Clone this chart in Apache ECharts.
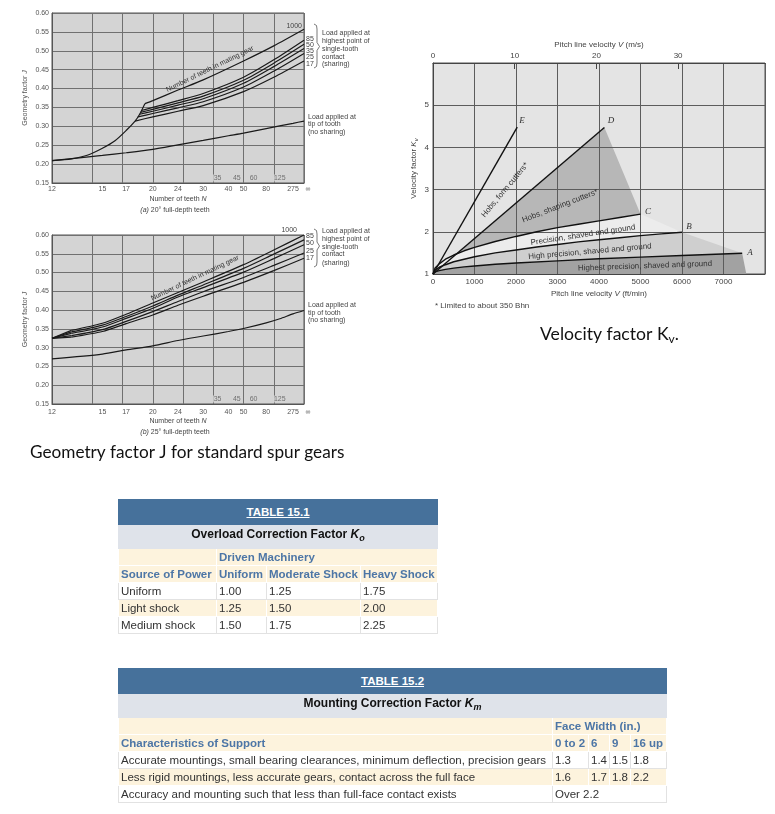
<!DOCTYPE html>
<html>
<head>
<meta charset="utf-8">
<title>Geometry factor J, velocity factor Kv, Ko and Km tables</title>
<script src="https://cdn.jsdelivr.net/npm/echarts@6.0.0/dist/echarts.min.js"></script>
<style>
html,body{margin:0;padding:0;background:#fff;width:775px;height:814px;overflow:hidden;}
#chart{position:absolute;left:0;top:0;width:775px;height:814px;}
.tb{position:absolute;border-collapse:collapse;table-layout:fixed;font-family:"Liberation Sans",Arial,sans-serif;font-size:11.5px;color:#333;z-index:2;}
.tb td{box-sizing:border-box;border:1px solid #e2e2e2;padding:0 2px;white-space:nowrap;overflow:hidden;line-height:13px;vertical-align:middle;}
.tb tr.hd td{background:#46719b;color:#fff;font-weight:bold;text-align:center;height:25px;border-color:#46719b;}
.tb tr.hd td span{text-decoration:underline;}
.tb tr.st td{background:#dfe3ea;color:#111;font-weight:bold;text-align:center;height:24px;border-color:#dfe3ea;font-size:12px;}
.tb tr.st td i{font-style:italic;}
.tb tr.st td sub{font-size:9px;font-style:italic;vertical-align:-3px;}
.tb tr.ch td{background:#fdf3dd;color:#4d76a6;font-weight:bold;height:17px;border-color:#f3ead6 #fff #fff #fff;}
.tb tr.w td{background:#fff;height:17px;}
.tb tr.c td{background:#fdf3dd;height:17px;border-color:#fff;}
</style>
</head>
<body>
<div id="chart"></div>
<div id="tables"></div>
<script>
// ================= DATA =================
// Geometry factor J — shared x scale (number of teeth N, plotted on 1/N)
const gridTeeth = [15,17,20,24,30,35,40,45,50,60,80,125,275];
const teethLabelsLower = [12,15,17,20,24,30,40,50,80,275,Infinity];
const teethLabelsUpper = [35,45,60,125];
const jMin = 0.15, jMax = 0.60, jStep = 0.05;

// (a) 20° full-depth teeth
const aTipN = [12,15,17,20,24,30,40,50,80,275,Infinity];
const aTipJ = [0.209,0.223,0.230,0.239,0.251,0.263,0.275,0.282,0.294,0.308,0.314];
const aEnvN = [12,13,14,15,16,17,17.9,18.4,19];
const aEnvJ = [0.209,0.214,0.224,0.242,0.262,0.289,0.314,0.332,0.360];
const aMating = ['1000','85','50','35','25','17'];
const aBranchN = [19,18.6,18.5,18.4,18.2,17.9];
const aBranchJ = [0.360,0.342,0.337,0.332,0.325,0.314];
const aShareN = [20,24,30,50,100,Infinity];
const aShareJ = [
  [0.368,0.396,0.423,0.473,0.513,0.557],
  [0.350,0.368,0.387,0.430,0.476,0.528],
  [0.345,0.362,0.380,0.422,0.467,0.517],
  [0.340,0.356,0.373,0.414,0.458,0.506],
  [0.334,0.349,0.365,0.404,0.446,0.493],
  [0.325,0.340,0.355,0.392,0.430,0.473]
];

// (b) 25° full-depth teeth
const bTipN = [12,15,17,20,24,30,40,50,80,125,275,Infinity];
const bTipJ = [0.270,0.283,0.294,0.305,0.319,0.331,0.343,0.351,0.366,0.377,0.390,0.399];
const bMating = ['1000','85','50','25','17'];
const bShareN = [12,13,15,17,20,24,30,50,100,Infinity];
const bShareJ = [
  [0.325,0.346,0.365,0.389,0.419,0.447,0.475,0.521,0.560,0.600],
  [0.325,0.342,0.360,0.383,0.411,0.440,0.467,0.511,0.549,0.587],
  [0.325,0.338,0.355,0.378,0.405,0.435,0.460,0.501,0.537,0.574],
  [0.325,0.332,0.348,0.370,0.396,0.423,0.449,0.487,0.519,0.552],
  [0.325,0.328,0.343,0.364,0.387,0.413,0.437,0.474,0.505,0.538]
];

// Velocity factor Kv (V in ft/min)
const vMax = 8000, ftPerMs = 196.85;
const vE_V = [0,2030], vE_K = [1,4.48];
const vD_V = [0,4130], vD_K = [1,4.47];
const vC_V = [0,50,150,300,500,750,1000,1500,2000,2500,3000,3500,4000,4500,5000];
const vC_K = [1,1.14,1.24,1.35,1.45,1.55,1.63,1.77,1.89,2.00,2.10,2.18,2.26,2.34,2.42];
const vB_V = [0,50,150,300,500,750,1000,1500,2000,2500,3000,3500,4000,4500,5000,5500,6000];
const vB_K = [1,1.09,1.16,1.22,1.29,1.35,1.41,1.50,1.57,1.64,1.70,1.76,1.81,1.86,1.91,1.95,1.99];
const vA_V = [0,50,150,300,500,750,1000,1500,2000,3000,4000,5000,6000,7450];
const vA_K = [1,1.05,1.08,1.11,1.14,1.17,1.19,1.23,1.26,1.31,1.36,1.40,1.44,1.49];
const vAFoot = [7550,1];

// Tables
const t1Header = 'TABLE 15.1';
const t1Group = 'Driven Machinery';
const t1Cols = ['Source of Power','Uniform','Moderate Shock','Heavy Shock'];
const t1RowNames = ['Uniform','Light shock','Medium shock'];
const t1Vals = [['1.00','1.25','1.75'],['1.25','1.50','2.00'],['1.50','1.75','2.25']];
const t2Header = 'TABLE 15.2';
const t2Group = 'Face Width (in.)';
const t2Cols = ['Characteristics of Support','0 to 2','6','9','16 up'];
const t2RowNames = ['Accurate mountings, small bearing clearances, minimum deflection, precision gears',
  'Less rigid mountings, less accurate gears, contact across the full face',
  'Accuracy and mounting such that less than full-face contact exists'];
const t2Vals = [['1.3','1.4','1.5','1.8'],['1.6','1.7','1.8','2.2'],['Over 2.2']];

// ================= CHART =================
const FONT = '"Liberation Sans", Arial, sans-serif';
const SERIF = '"Liberation Serif", "DejaVu Serif", serif';
const CAP = 'Lato, "Open Sans", sans-serif';
const inv = n => 1 / n;
const pts = (xs, ys, fx) => xs.map((x, i) => [fx ? fx(x) : x, ys[i]]);

const chart = echarts.init(document.getElementById('chart'), null, {renderer: 'canvas'});

function teethXAxis(gi, labelMargin, nameGap) {
  return {
    gridIndex: gi, type: 'value', min: 0, max: 1/12, inverse: true,
    axisLine: {show: true, onZero: false, lineStyle: {color: '#555', width: 1}},
    axisTick: {show: false}, splitLine: {show: false},
    axisLabel: {customValues: teethLabelsLower.map(inv), formatter: v => v === 0 ? '{inf|∞}' : String(Math.round(1 / v)),
      fontSize: 7, color: '#555', fontFamily: FONT, margin: labelMargin, hideOverlap: false,
      rich: {inf: {fontSize: 7, color: '#555', fontFamily: FONT, padding: [0, 0, 0, 8]}}},
    name: 'Number of teeth {i|N}', nameLocation: 'middle', nameGap: nameGap,
    nameTextStyle: {fontSize: 7, color: '#444', fontFamily: FONT, rich: {i: {fontStyle: 'italic', fontSize: 7, color: '#444', fontFamily: FONT}}}
  };
}
function jYAxis(gi) {
  return {
    gridIndex: gi, type: 'value', min: jMin, max: jMax, interval: jStep,
    axisLine: {show: true, onZero: false, lineStyle: {color: '#555'}},
    axisTick: {show: false},
    splitLine: {show: true, lineStyle: {color: '#707070', width: 1}},
    axisLabel: {formatter: v => v.toFixed(2), fontSize: 7, color: '#555', fontFamily: FONT, margin: 3},
    name: 'Geometry factor {i|J}', nameLocation: 'middle', nameRotate: 90, nameGap: 23,
    nameTextStyle: {fontSize: 7, color: '#555', fontFamily: FONT, rich: {i: {fontStyle: 'italic', fontSize: 7, color: '#555', fontFamily: FONT}}}
  };
}
const curveStyle = {color: '#1a1a1a', width: 1.2};
function lineS(ai, data, extra) {
  return Object.assign({type: 'line', xAxisIndex: ai, yAxisIndex: ai, data, symbol: 'none', smooth: 0.25,
    silent: true, z: 5, lineStyle: curveStyle, animation: false}, extra || {});
}
function teethGridSeries(ai) {
  return {type: 'line', xAxisIndex: ai, yAxisIndex: ai, data: [], silent: true, z: 1,
    markLine: {silent: true, symbol: 'none', animation: false, label: {show: false},
      lineStyle: {color: '#707070', width: 1, type: 'solid'}, data: gridTeeth.map(n => ({xAxis: inv(n)}))}};
}
function upperLabelSeries(ai) {
  return {type: 'scatter', xAxisIndex: ai, yAxisIndex: ai, data: teethLabelsUpper.map(n => [inv(n), jMin]),
    symbolSize: 1, itemStyle: {color: 'rgba(0,0,0,0)'}, silent: true, z: 6, clip: false,
    label: {show: true, position: 'top', distance: 1, formatter: p => String(Math.round(1 / p.value[0])),
      fontSize: 7, color: '#555', fontFamily: FONT, backgroundColor: '#d4d4d4', padding: [0, 1]}};
}
function polyS(points, color) {
  return {type: 'custom', xAxisIndex: 2, yAxisIndex: 2, silent: true, z: 1, data: [[0, 1]], animation: false,
    renderItem: (params, api) => ({type: 'polygon', shape: {points: points.map(p => api.coord(p))}, style: {fill: color}})};
}

const series = [];
// (a)
series.push(teethGridSeries(0), upperLabelSeries(0));
series.push(lineS(0, pts(aTipN, aTipJ, inv)));
series.push(lineS(0, pts(aEnvN, aEnvJ, inv)));
aMating.forEach((m, k) => {
  series.push(lineS(0, [[inv(aBranchN[k]), aBranchJ[k]]].concat(pts(aShareN, aShareJ[k], inv)), {name: 'a' + m}));
});
// (b)
series.push(teethGridSeries(1), upperLabelSeries(1));
series.push(lineS(1, pts(bTipN, bTipJ, inv)));
bMating.forEach((m, k) => {
  const d = pts(bShareN, bShareJ[k], inv);
  series.push(lineS(1, d.slice(0, 2), {smooth: false}));
  series.push(lineS(1, d.slice(1), {name: 'b' + m}));
});
// velocity shading
const cE = pts(vE_V, vE_K), cD = pts(vD_V, vD_K), cC = pts(vC_V, vC_K), cB = pts(vB_V, vB_K), cA = pts(vA_V, vA_K);
const rev = a => a.slice().reverse();
series.push(polyS(cD.concat(rev(cC)), '#b7b7b7'));
series.push(polyS(cC.concat(rev(cB)), '#ececec'));
series.push(polyS(cB.concat(rev(cA)), '#cfcfcf'));
series.push(polyS(cA.concat([vAFoot]), '#a2a2a2'));
[cE, cD, cC, cB, cA].forEach(c => series.push(lineS(2, c, {smooth: false, lineStyle: {color: '#111', width: 1.4}})));

// ---- annotation text ----
function T(x, y, text, o) {
  o = o || {};
  return {type: 'text', x, y, rotation: (o.rot || 0) * Math.PI / 180, silent: true, z: 20,
    style: {text, fill: o.color || '#444', fontSize: o.size || 7, fontFamily: o.family || FONT,
      fontStyle: o.style || 'normal', fontWeight: o.weight || 'normal', align: o.align || 'left',
      verticalAlign: 'middle', rich: o.rich}};
}
function brace(x, y0, ym, y1) {
  return {type: 'polyline', silent: true, z: 20,
    shape: {points: [[x, y0], [x + 2.5, y0 + 1.5], [x + 3, y0 + 5], [x + 3, ym - 4], [x + 5.5, ym], [x + 3, ym + 4], [x + 3, y1 - 5], [x + 2.5, y1 - 1.5], [x, y1]]},
    style: {stroke: '#555', fill: null, lineWidth: 0.8}};
}
const sharingLines = ['Load applied at', 'highest point of', 'single-tooth', 'contact', '(sharing)'];
const tipLines = ['Load applied at', 'tip of tooth', '(no sharing)'];
const graphics = [];
// (a)
graphics.push(T(302, 26, '1000', {align: 'right'}));
[['85', 39.5], ['50', 45.5], ['35', 51.5], ['25', 57.5], ['17', 64.5]].forEach(p => graphics.push(T(306, p[1], p[0])));
graphics.push(brace(314, 24, 46.5, 68));
[32.7, 40.7, 49, 56.7, 64.3].forEach((y, i) => graphics.push(T(322, y, sharingLines[i])));
[116.7, 124.3, 132.3].forEach((y, i) => graphics.push(T(308, y, tipLines[i])));
graphics.push(T(210, 69, 'Number of teeth in mating gear', {rot: 26, align: 'center', color: '#333'}));
graphics.push(T(175, 210.5, '{i|(a)} 20° full-depth teeth', {align: 'center', rich: {i: {fontStyle: 'italic', fontSize: 7, fontFamily: FONT, fill: '#444'}}}));
// (b)
graphics.push(T(297, 230, '1000', {align: 'right'}));
[['85', 236], ['50', 243.5], ['25', 251], ['17', 258.5]].forEach(p => graphics.push(T(306, p[1], p[0])));
graphics.push(brace(314, 229, 246, 267));
[230.7, 239, 246.7, 254.3, 262.7].forEach((y, i) => graphics.push(T(322, y, sharingLines[i])));
[305, 312.7, 320].forEach((y, i) => graphics.push(T(308, y, tipLines[i])));
graphics.push(T(195, 278, 'Number of teeth in mating gear', {rot: 25.5, align: 'center', color: '#333'}));
graphics.push(T(175, 432.5, '{i|(b)} 25° full-depth teeth', {align: 'center', rich: {i: {fontStyle: 'italic', fontSize: 7, fontFamily: FONT, fill: '#444'}}}));
// velocity
const letterO = {size: 9, family: SERIF, style: 'italic', color: '#333', align: 'center'};
graphics.push(T(522, 121, 'E', letterO), T(611, 121, 'D', letterO), T(648, 212, 'C', letterO), T(689, 226.5, 'B', letterO), T(750, 253, 'A', letterO));
graphics.push(T(505, 190, 'Hobs, form cutters*', {rot: 50, align: 'center', size: 8, color: '#333'}));
graphics.push(T(560, 206, 'Hobs, shaping cutters*', {rot: 21, align: 'center', size: 8, color: '#333'}));
graphics.push(T(583, 235, 'Precision, shaved and ground', {rot: 8.5, align: 'center', size: 8, color: '#333'}));
graphics.push(T(590, 251.5, 'High precision, shaved and ground', {rot: 5, align: 'center', size: 8, color: '#333'}));
graphics.push(T(645, 266, 'Highest precision, shaved and ground', {rot: 2, align: 'center', size: 8, color: '#333'}));
graphics.push(T(435, 306, '* Limited to about 350 Bhn', {size: 8, color: '#444'}));
// captions
graphics.push(T(30, 452, 'Geometry factor J for standard spur gears', {size: 17.2, family: CAP, color: '#111'}));
graphics.push(T(540, 334, 'Velocity factor {k|K}{s|v}{n|.}', {size: 17.6, family: CAP, color: '#111',
  rich: {k: {fontSize: 17.6, fontFamily: CAP, fill: '#111'}, s: {fontSize: 12, fontFamily: CAP, fill: '#111', padding: [10, 0, 0, 0]}, n: {fontSize: 17.6, fontFamily: CAP, fill: '#111'}}}));

const option = {
  animation: false,
  backgroundColor: '#fff',
  grid: [
    {left: 52, top: 13, width: 252, height: 170, show: true, backgroundColor: '#d4d4d4', borderColor: '#555', borderWidth: 1, outerBoundsMode: 'none', containLabel: false},
    {left: 52, top: 235, width: 252, height: 169, show: true, backgroundColor: '#d4d4d4', borderColor: '#555', borderWidth: 1, outerBoundsMode: 'none', containLabel: false},
    {left: 433, top: 63, width: 332, height: 211, show: true, backgroundColor: '#e4e4e4', borderColor: '#555', borderWidth: 1, outerBoundsMode: 'none', containLabel: false}
  ],
  xAxis: [
    teethXAxis(0, 3, 13),
    teethXAxis(1, 4.5, 14),
    {gridIndex: 2, type: 'value', min: 0, max: vMax, interval: 1000, z: 3,
      axisLine: {show: true, onZero: false, lineStyle: {color: '#444'}}, axisTick: {show: false},
      splitLine: {show: true, lineStyle: {color: '#5c5c5c', width: 1}},
      axisLabel: {formatter: v => v >= vMax ? '' : String(v), fontSize: 8, color: '#444', fontFamily: FONT, margin: 4},
      name: 'Pitch line velocity {i|V} (ft/min)', nameLocation: 'middle', nameGap: 16,
      nameTextStyle: {fontSize: 8, color: '#444', fontFamily: FONT, rich: {i: {fontStyle: 'italic', fontSize: 8, color: '#444', fontFamily: FONT}}}},
    {gridIndex: 2, type: 'value', position: 'top', min: 0, max: vMax / ftPerMs, z: 3,
      axisLine: {show: true, onZero: false, lineStyle: {color: '#444'}},
      axisTick: {show: true, inside: true, length: 6, customValues: [10, 20, 30], lineStyle: {color: '#444'}},
      splitLine: {show: false},
      axisLabel: {customValues: [0, 10, 20, 30], fontSize: 8, color: '#444', fontFamily: FONT, margin: 3},
      name: 'Pitch line velocity {i|V} (m/s)', nameLocation: 'middle', nameGap: 14,
      nameTextStyle: {fontSize: 8, color: '#444', fontFamily: FONT, rich: {i: {fontStyle: 'italic', fontSize: 8, color: '#444', fontFamily: FONT}}}}
  ],
  yAxis: [
    jYAxis(0),
    jYAxis(1),
    {gridIndex: 2, type: 'value', min: 1, max: 6, interval: 1, z: 3,
      axisLine: {show: true, onZero: false, lineStyle: {color: '#444'}}, axisTick: {show: false},
      splitLine: {show: true, lineStyle: {color: '#5c5c5c', width: 1}},
      axisLabel: {formatter: v => v >= 6 ? '' : String(v), fontSize: 8, color: '#444', fontFamily: FONT, margin: 4},
      name: 'Velocity factor {i|K}{s|v}', nameLocation: 'middle', nameRotate: 90, nameGap: 14,
      nameTextStyle: {fontSize: 8, color: '#444', fontFamily: FONT, rich: {i: {fontStyle: 'italic', fontSize: 8, color: '#444', fontFamily: FONT}, s: {fontStyle: 'italic', fontSize: 6, color: '#444', fontFamily: FONT, padding: [5, 0, 0, 0]}}}}
  ],
  series,
  graphic: {elements: graphics}
};
chart.setOption(option);

// ================= TABLES =================
function buildTable(cfg) {
  const n = cfg.widths.length;
  const total = cfg.widths.reduce((a, b) => a + b, 0);
  let h = `<table class="tb" style="left:${cfg.left}px;top:${cfg.top}px;width:${total}px"><colgroup>` +
    cfg.widths.map(w => `<col style="width:${w}px">`).join('') + '</colgroup>';
  h += `<tr class="hd"><td colspan="${n}"><span>${cfg.header}</span></td></tr>`;
  h += `<tr class="st"><td colspan="${n}">${cfg.sub}</td></tr>`;
  h += `<tr class="ch"><td></td><td colspan="${n - 1}">${cfg.group}</td></tr>`;
  h += `<tr class="ch">${cfg.cols.map(c => `<td>${c}</td>`).join('')}</tr>`;
  cfg.rowNames.forEach((r, i) => {
    const v = cfg.vals[i];
    const cells = v.length === n - 1 ? v.map(x => `<td>${x}</td>`).join('') : `<td colspan="${n - 1}">${v[0]}</td>`;
    h += `<tr class="${i % 2 ? 'c' : 'w'}"><td>${r}</td>${cells}</tr>`;
  });
  return h + '</table>';
}
document.getElementById('tables').innerHTML =
  buildTable({left: 118, top: 499, widths: [98, 50, 94, 77], header: t1Header,
    sub: 'Overload Correction Factor <i>K</i><sub>o</sub>', group: t1Group, cols: t1Cols, rowNames: t1RowNames, vals: t1Vals}) +
  buildTable({left: 118, top: 668, widths: [434, 36, 21, 21, 36], header: t2Header,
    sub: 'Mounting Correction Factor <i>K</i><sub>m</sub>', group: t2Group, cols: t2Cols, rowNames: t2RowNames, vals: t2Vals});
</script>
</body>
</html>
